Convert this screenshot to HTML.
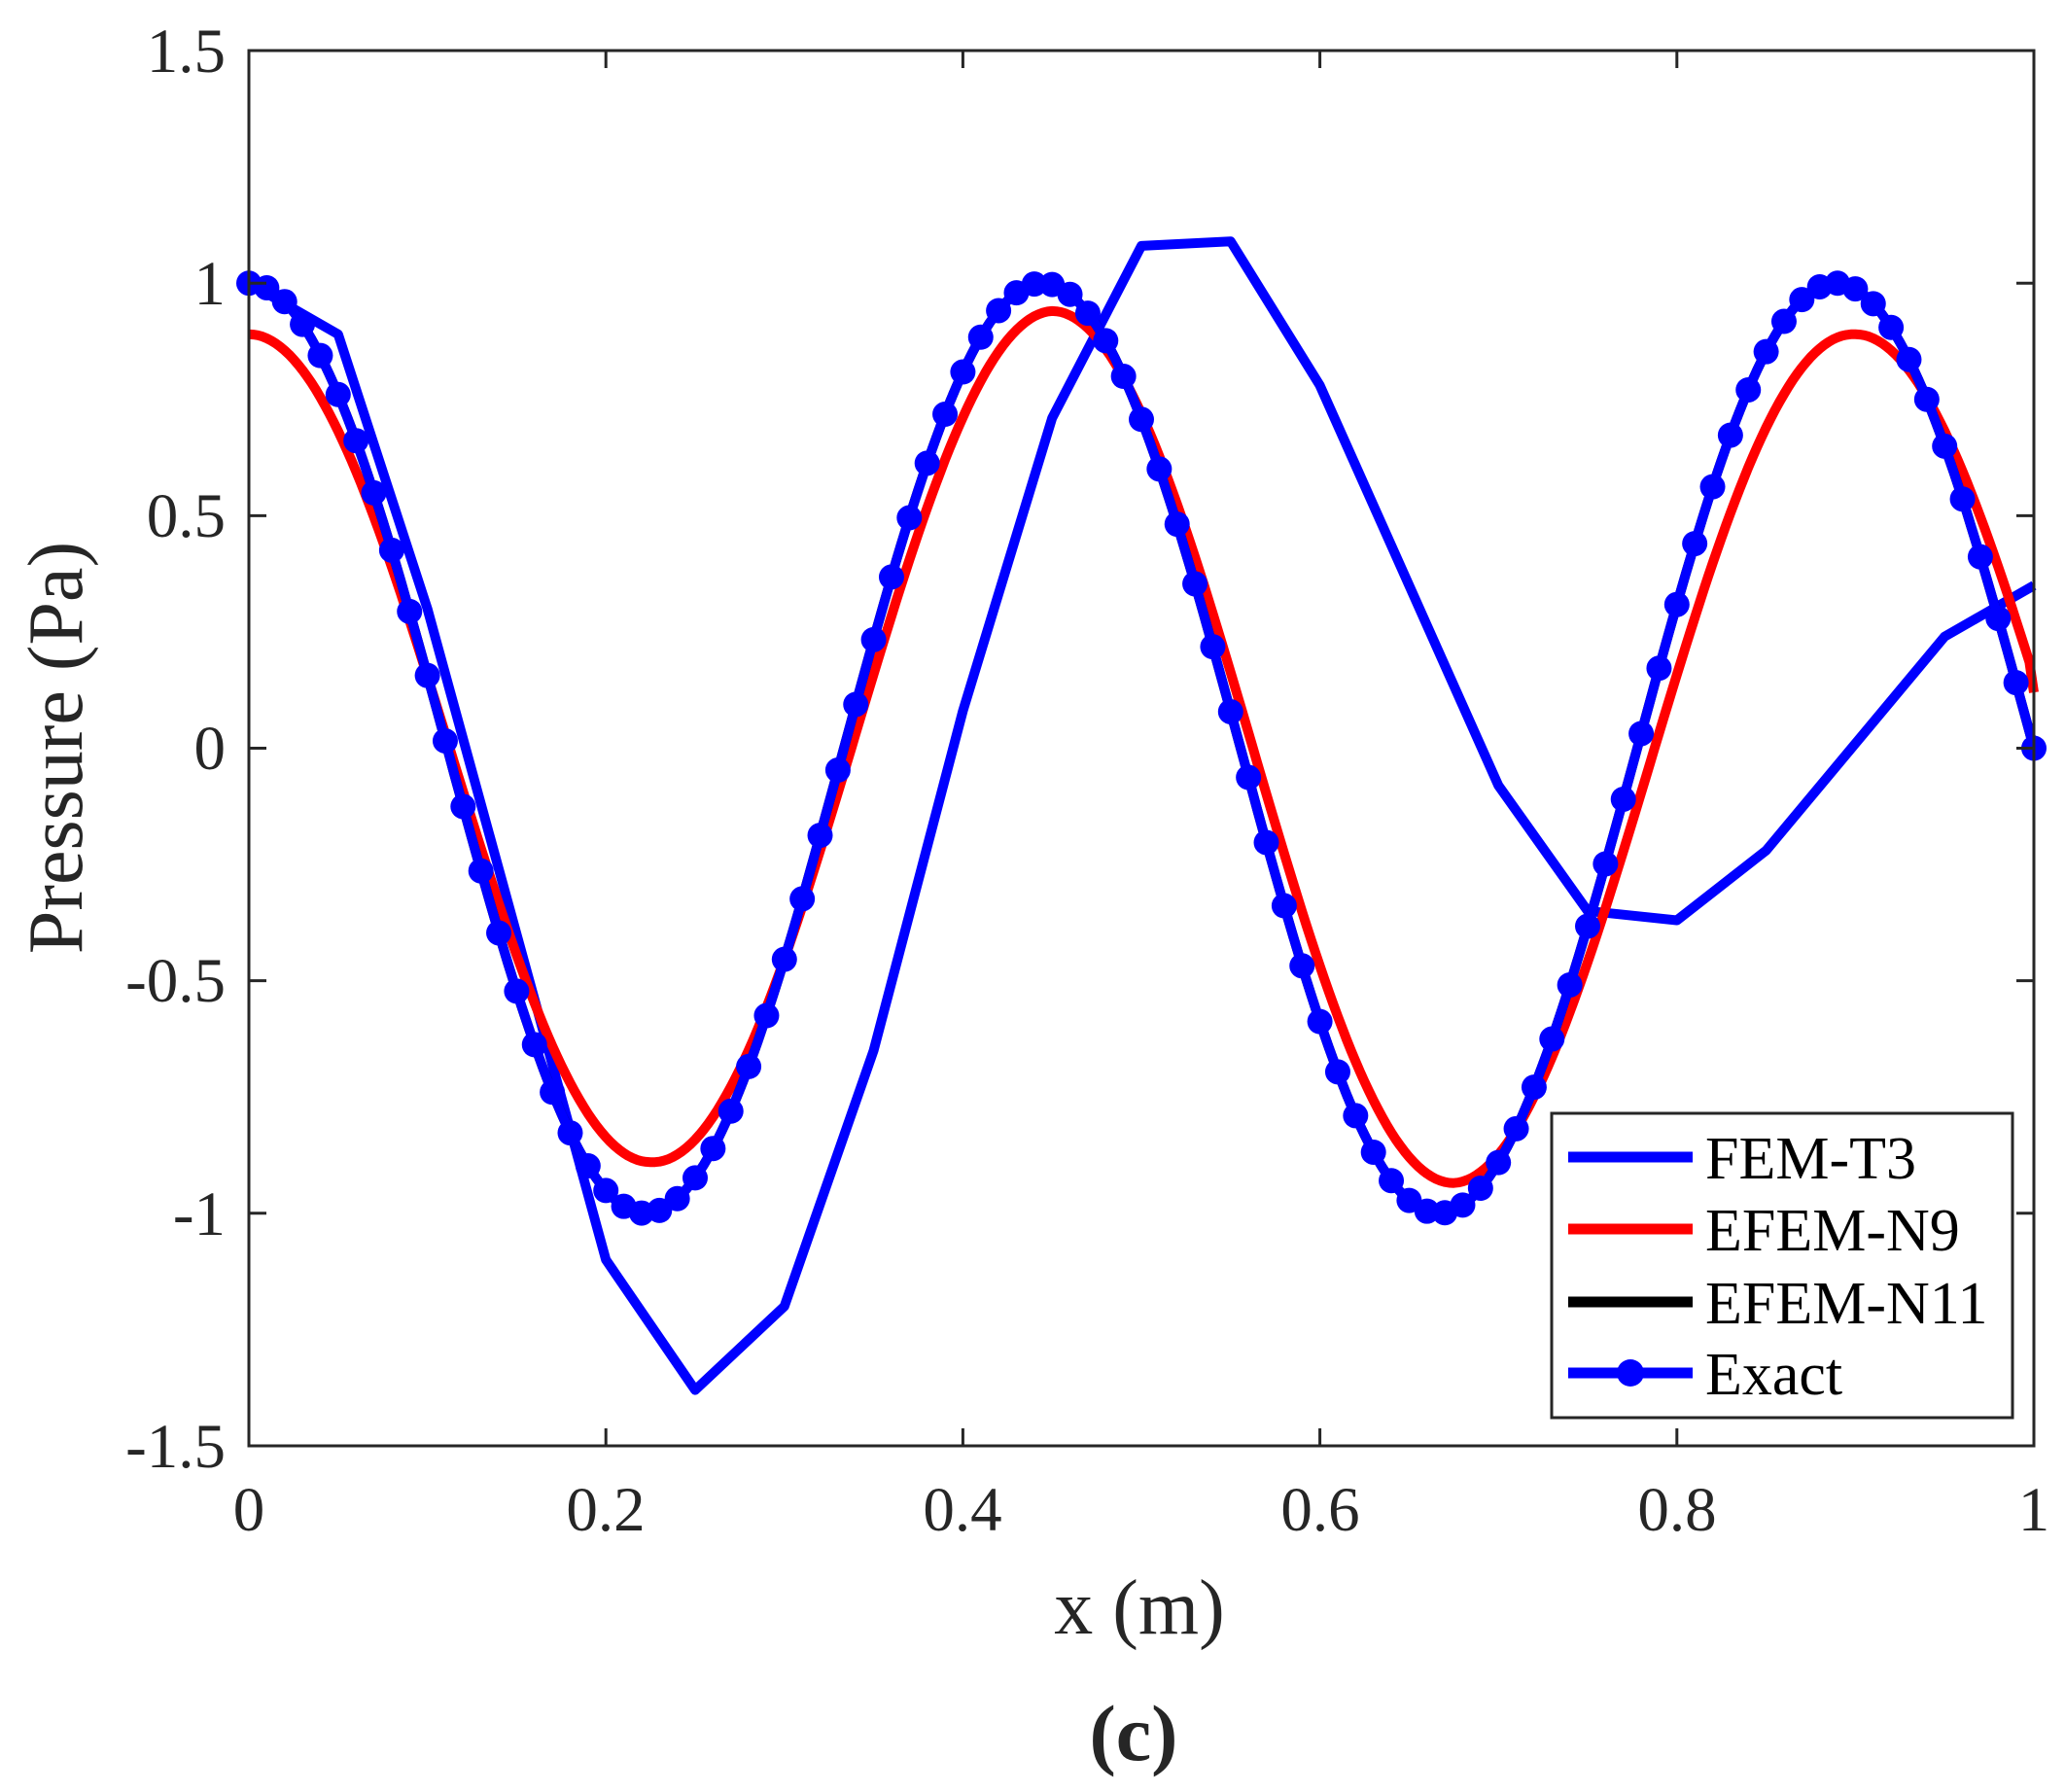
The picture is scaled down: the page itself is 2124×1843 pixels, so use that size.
<!DOCTYPE html>
<html><head><meta charset="utf-8"><style>html,body{margin:0;padding:0;background:#fff}svg{display:block}</style></head>
<body>
<svg id="s" width="2124" height="1843" viewBox="0 0 2124 1843" xmlns="http://www.w3.org/2000/svg" font-family="Liberation Serif, serif" fill="#262626">
<g id="plot"></g>
<rect x="256" y="52" width="1836" height="1435" fill="none" stroke="#262626" stroke-width="3"/>
<g id="ticks" stroke="#262626" stroke-width="3"></g>
<g font-size="65" text-anchor="end">
<text x="232" y="74">1.5</text>
<text x="232" y="313">1</text>
<text x="232" y="552">0.5</text>
<text x="232" y="791">0</text>
<text x="232" y="1030">-0.5</text>
<text x="232" y="1270">-1</text>
<text x="232" y="1509">-1.5</text>
</g>
<g font-size="65" text-anchor="middle">
<text x="256" y="1574">0</text>
<text x="623" y="1574">0.2</text>
<text x="990" y="1574">0.4</text>
<text x="1358" y="1574">0.6</text>
<text x="1725" y="1574">0.8</text>
<text x="2092" y="1574">1</text>
<text x="1172" y="1680" font-size="80">x (m)</text>
<text x="1166" y="1810" font-size="82" font-weight="bold">(c)</text>
</g>
<text transform="translate(84,769) rotate(-90)" font-size="80" text-anchor="middle">Pressure (Pa)</text>
<rect x="1596" y="1145" width="474" height="313" fill="#fff" stroke="#262626" stroke-width="3"/>
<line x1="1613" y1="1190" x2="1741" y2="1190" stroke="#0000ff" stroke-width="11"/>
<line x1="1613" y1="1264" x2="1741" y2="1264" stroke="#ff0000" stroke-width="11"/>
<line x1="1613" y1="1339" x2="1741" y2="1339" stroke="#000" stroke-width="11"/>
<line x1="1613" y1="1412" x2="1741" y2="1412" stroke="#0000ff" stroke-width="11"/>
<circle cx="1677" cy="1412" r="14" fill="#0000ff"/>
<g font-size="62" fill="#000">
<text x="1754" y="1212">FEM-T3</text>
<text x="1754" y="1286">EFEM-N9</text>
<text x="1754" y="1361">EFEM-N11</text>
<text x="1754" y="1434">Exact</text>
</g>
</svg>
<script>
var X=function(x){return 256+x*1836},Y=function(y){return 769.5-y*478.3};
var NS="http://www.w3.org/2000/svg",p=document.getElementById("plot"),t=document.getElementById("ticks");
function path(pts,c){var e=document.createElementNS(NS,"path");e.setAttribute("d","M"+pts.map(function(q){return X(q[0]).toFixed(1)+","+Y(q[1]).toFixed(1)}).join("L"));e.setAttribute("fill","none");e.setAttribute("stroke",c);e.setAttribute("stroke-width","10");e.setAttribute("stroke-linejoin","round");p.appendChild(e);}
var amp=[[0,.89],[.225,.89],[.45,.94],[.675,.935],[.9,.89],[1,.89]];
function A(x){for(var j=1;j<amp.length;j++){if(x<=amp[j][0]){var f=(x-amp[j-1][0])/(amp[j][0]-amp[j-1][0]);return amp[j-1][1]+f*(amp[j][1]-amp[j-1][1]);}}return .89;}
var k=4.5*Math.PI,ex=[],red=[],i;
for(i=0;i<=400;i++){var x=i/400;ex.push([x,Math.cos(k*x)]);red.push([x,A(x)*Math.cos(2*Math.PI*x/0.45)]);}
red[400][1]=0.12;
var fem=[[0,1],[0.05,0.89],[0.1,0.3],[0.15,-0.4],[0.2,-1.1],[0.25,-1.38],[0.3,-1.2],[0.35,-0.65],[0.4,0.08],[0.45,0.71],[0.5,1.08],[0.55,1.09],[0.6,0.78],[0.65,0.35],[0.7,-0.08],[0.75,-0.35],[0.8,-0.37],[0.85,-0.22],[0.9,0.01],[0.95,0.24],[1,0.35]];
path(fem,"#0000ff");path(red,"#ff0000");path(ex,"#000");path(ex,"#0000ff");
for(i=0;i<=100;i++){var c=document.createElementNS(NS,"circle");c.setAttribute("cx",X(i/100));c.setAttribute("cy",Y(Math.cos(k*i/100)));c.setAttribute("r","13");c.setAttribute("fill","#0000ff");p.appendChild(c);}
function ln(a,b,c,d){var e=document.createElementNS(NS,"line");e.setAttribute("x1",a);e.setAttribute("y1",b);e.setAttribute("x2",c);e.setAttribute("y2",d);t.appendChild(e);}
for(i=0;i<=5;i++){var xx=X(i*0.2);ln(xx,1487,xx,1469);ln(xx,52,xx,70);}
for(i=0;i<=6;i++){var yy=Y(1.5-i*0.5);ln(256,yy,274,yy);ln(2092,yy,2074,yy);}
</script>
</body></html>
